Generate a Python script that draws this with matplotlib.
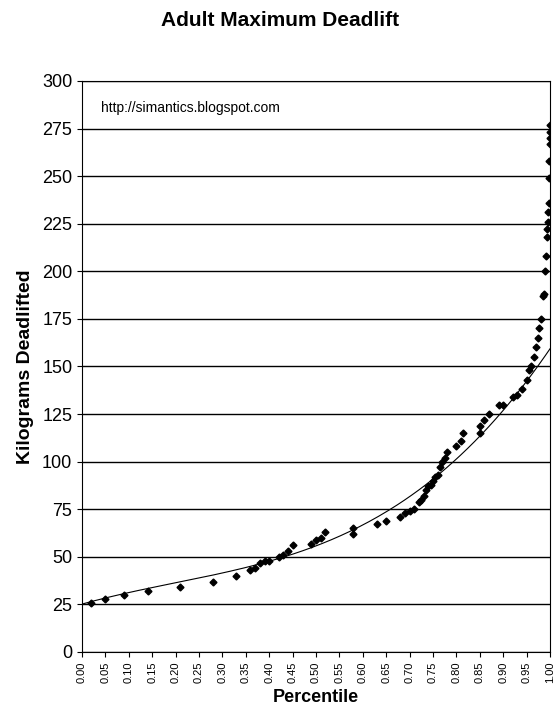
import numpy as np
import matplotlib
matplotlib.use("Agg")
import matplotlib.pyplot as plt

plt.rcParams['font.family'] = ['Liberation Sans', 'DejaVu Sans']

percentile = [0.02,0.05,0.09,0.14,0.21,0.28,0.33,0.36,0.37,0.38,0.39,0.40,0.42,0.43,0.44,0.45,
              0.49,0.50,0.51,0.52,0.58,0.58,0.63,0.65,0.68,0.69,0.70,0.71,0.72,0.725,0.73,0.735,
              0.74,0.745,0.75,0.755,0.76,0.765,0.77,0.775,0.78,0.80,0.81,0.815,0.85,0.85,0.86,0.87,
              0.89,0.90,0.92,0.93,0.94,0.95,0.955,0.96,0.965,0.97,0.975,0.977,0.98,0.985,0.987,
              0.99,0.992,0.993,0.994,0.995,0.996,0.997,0.998,0.998,0.999,0.9995,1.0,1.0]
kg = [26,28,30,32,34,37,40,43,44,47,48,48,50,51,53,56,
      57,59,60,63,62,65,67,69,71,73,74,75,79,80,82,85,
      87,88,90,92,93,97,100,102,105,108,111,115,115,119,122,125,
      130,130,134,135,138,143,148,150,155,160,165,170,175,187,188,
      200,208,218,222,226,231,236,249,258,267,270,273,277]

# trendline
trend_x = [0.0, 0.2, 0.4, 0.5, 0.6, 0.7, 0.8, 0.9, 1.0]
trend_y = [26, 34, 48, 58, 68, 80, 100, 127, 160]

x = np.array(percentile); y = np.array(kg)
coef = np.polyfit(trend_x, trend_y, 3)
xt = np.linspace(0, 1, 200)

fig = plt.figure(figsize=(5.6, 7.25), dpi=100)
ax = fig.add_axes([82/560, 1-652/725, 468/560, 571/725])
ax.plot(xt, np.polyval(coef, xt), color='black', lw=0.8)
ax.plot(x, y, 'D', color='black', ms=3.5)
ax.set_xlim(0, 1); ax.set_ylim(0, 300)
ax.set_yticks(range(0, 301, 25))
ax.set_xticks(np.arange(0, 1.001, 0.05))
ax.set_xticklabels([f"{v:.2f}" for v in np.arange(0, 1.001, 0.05)], rotation=90, fontsize=8)
ax.tick_params(axis='y', labelsize=13)
ax.yaxis.grid(True, color='black', lw=1)
ax.set_axisbelow(True)
ax.set_xlabel('Percentile', fontsize=13, fontweight='bold')
ax.set_ylabel('Kilograms Deadlifted', fontsize=14, fontweight='bold', labelpad=6)
ax.text(0.04, 0.965, 'http://simantics.blogspot.com', transform=ax.transAxes, fontsize=10, va='top')
fig.text(0.5, 1-20/725, 'Adult Maximum Deadlift', ha='center', va='center', fontsize=15, fontweight='bold')
fig.savefig('out.png', dpi=100)
